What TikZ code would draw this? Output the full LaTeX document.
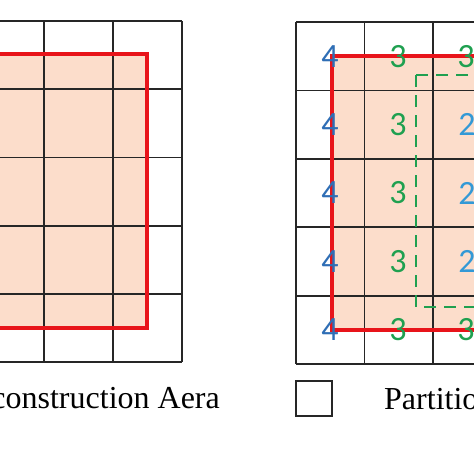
\documentclass[tikz,border=0pt]{standalone}
\usepackage{fontspec}
\setmainfont{Liberation Serif}
\newfontfamily\digitfont{Carlito}
\usepackage{tikz}
\definecolor{zonefill}{HTML}{FCDDCB}
\definecolor{zonered}{HTML}{E8141A}
\definecolor{zonegreen}{HTML}{1FA050}
\definecolor{darkblue}{HTML}{2F6EB5}
\definecolor{lightblue}{HTML}{3399D6}
\tikzset{
  gridline/.style={line width=1.8pt, black!85},
  zoneline/.style={line width=3.5pt, zonered},
  innerline/.style={line width=2.8pt, zonegreen, dash pattern=on 12pt off 8pt},
  cellnum/.style={inner sep=0pt, font=\digitfont\fontsize{34}{34}\selectfont},
  caption/.style={inner sep=0pt, font=\fontsize{32}{36}\selectfont},
}

\begin{document}
\begin{tikzpicture}[x=1pt, y=-1pt]
      \useasboundingbox (0,0) rectangle (474,474);
      \clip (0,0) rectangle (474,474);
      % left grid
      \fill [zonefill] (-60,54) rectangle (147,328);
      \foreach \x in {-25,44,113,182}
        \draw [gridline] (\x,21) -- (\x,362);
      \foreach \y in {21,89.2,157.4,225.6,293.8,362}
        \draw [gridline] (-30,\y) -- (182,\y);
      \draw [zoneline] (-60,54) rectangle (147,328);
      % right grid
      \fill [zonefill] (332,56) rectangle (540,330);
      \foreach \x in {296,364.5,433,501.5}
        \draw [gridline] (\x,22) -- (\x,364);
      \foreach \y in {22,90.4,158.8,227.2,295.6,364}
        \draw [gridline] (296,\y) -- (480,\y);
      \draw [zoneline] (332,56) rectangle (540,330);
      \draw [innerline] (416,75) rectangle (520,307);
      % cell numbers
      \foreach \y [count=\i] in {56.2,124.6,193,261.4,329.8} {
        \node [cellnum, text=darkblue] (four\i) at (330,\y) {4};
        \node [cellnum, text=zonegreen] (three\i) at (398,\y) {3};
      }
      \node [cellnum, text=zonegreen] (edge1) at (466,56.2) {3};
      \node [cellnum, text=lightblue] (edge2) at (467,124.6) {2};
      \node [cellnum, text=lightblue] (edge3) at (467,193) {2};
      \node [cellnum, text=lightblue] (edge4) at (467,261.4) {2};
      \node [cellnum, text=zonegreen] (edge5) at (466,329.8) {3};
      % legend
      \node [caption, anchor=base east] (recon) at (220,408) {construction Aera};
      \draw [line width=1.8pt, black!85] (296,381) rectangle (332,416);
      \node [caption, anchor=base west] (part) at (384,409) {Partition};
    \end{tikzpicture}
\end{document}
